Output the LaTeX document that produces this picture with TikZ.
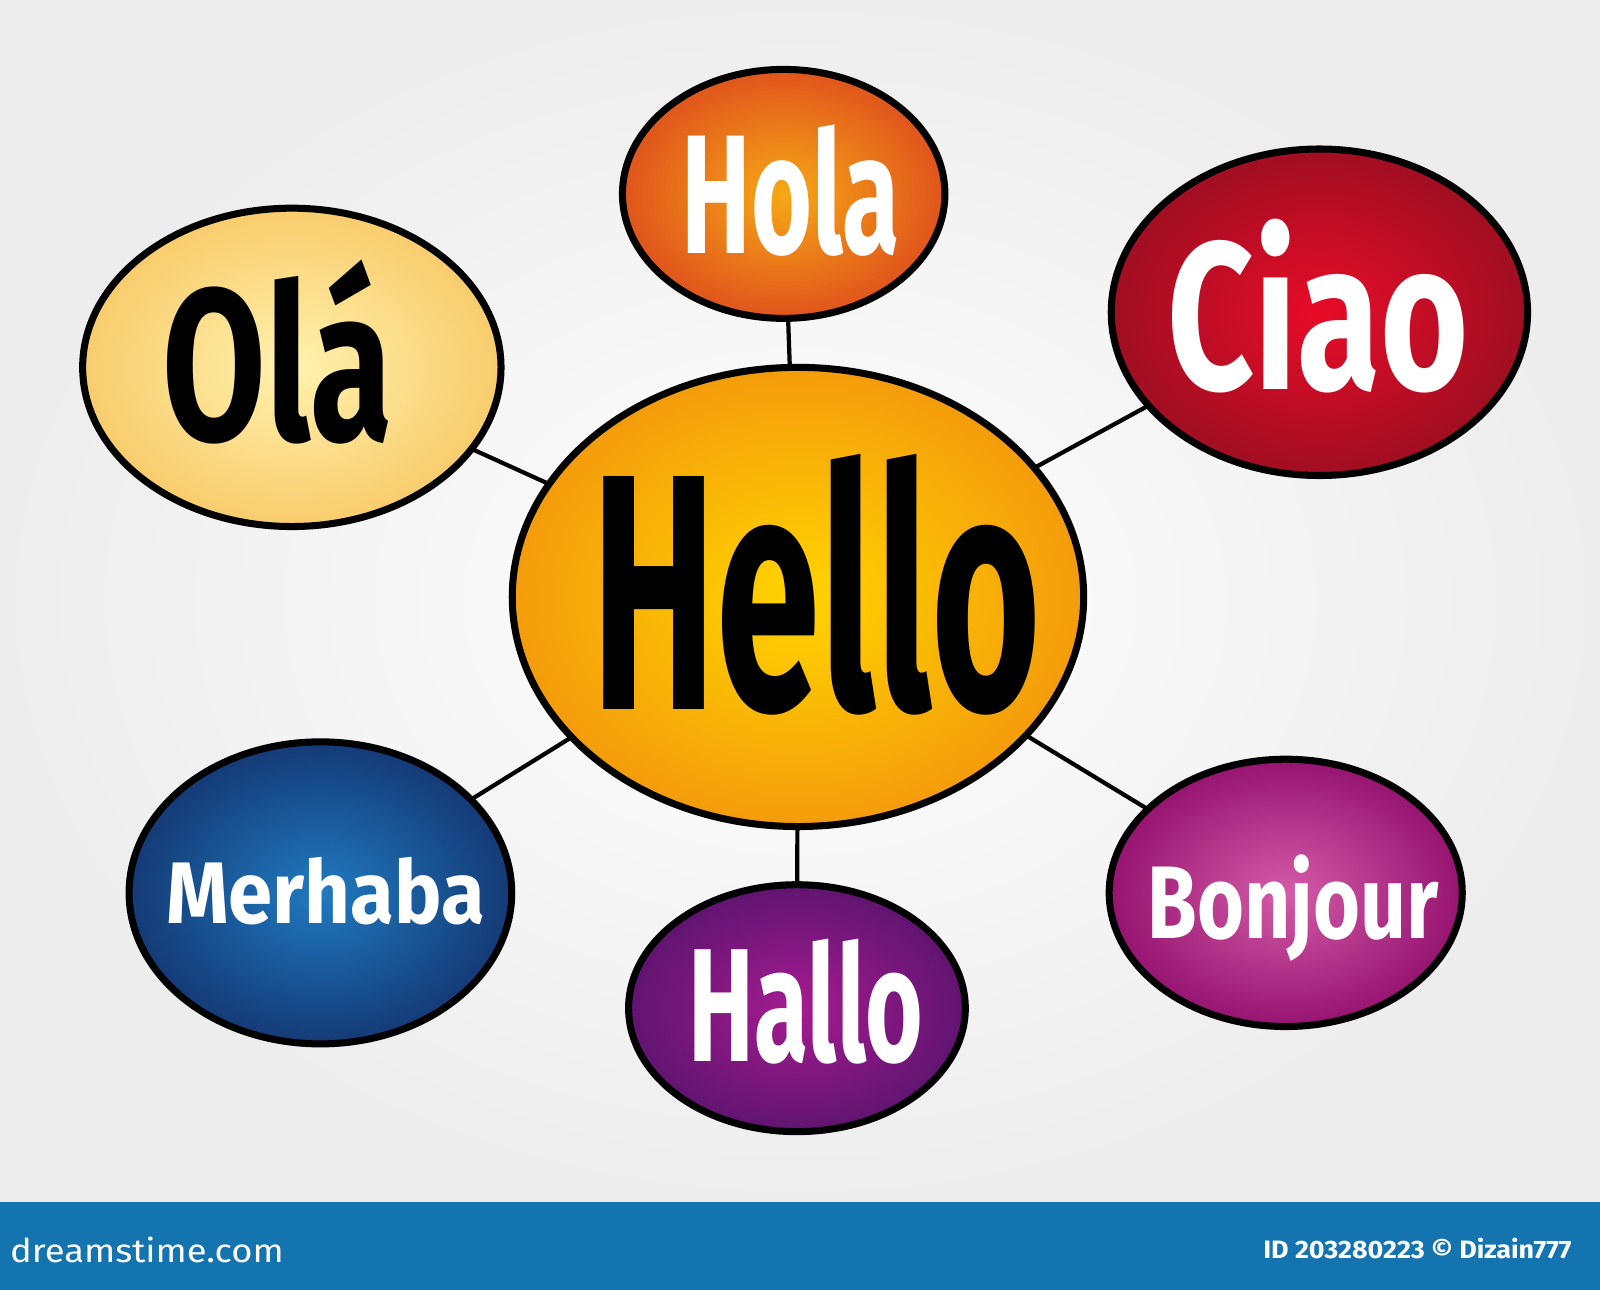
\documentclass[tikz,border=0pt]{standalone}
\usepackage{fontspec}
\setmainfont{Fira Sans}
\usetikzlibrary{shapes.geometric,backgrounds}
\newlength\px \setlength\px{0.010204cm}
\definecolor{helloin}{RGB}{255,212,0}\definecolor{helloout}{RGB}{244,156,12}
\definecolor{holain}{RGB}{246,168,22}\definecolor{holaout}{RGB}{224,84,28}
\definecolor{ciaoin}{RGB}{232,12,40}\definecolor{ciaoout}{RGB}{160,14,34}
\definecolor{olain}{RGB}{255,242,175}\definecolor{olaout}{RGB}{248,204,108}
\definecolor{merhabain}{RGB}{32,122,192}\definecolor{merhabaout}{RGB}{20,58,118}
\definecolor{halloin}{RGB}{165,28,145}\definecolor{halloout}{RGB}{96,20,112}
\definecolor{bonjourin}{RGB}{212,92,168}\definecolor{bonjourout}{RGB}{150,20,112}
\definecolor{barblue}{RGB}{20,116,176}
\begin{document}
\begin{tikzpicture}[x=1\px,y=-1\px,
  bubble/.style={ellipse,draw=black,line width=2pt,inner sep=0pt,inner color=#1in,outer color=#1out},
  word/.style={anchor=base,inner sep=0pt,font=\bfseries},
  link/.style={line width=1.2pt}]
\useasboundingbox (0,0) rectangle (1568,1264);
\node[bubble=hello,minimum width=560\px,minimum height=450\px] (hello) at (782,585) {};
\node[bubble=hola,minimum width=316\px,minimum height=244\px] (hola) at (768,190) {};
\node[bubble=ciao,minimum width=408\px,minimum height=320\px] (ciao) at (1293,306) {};
\node[bubble=ola,minimum width=410\px,minimum height=312\px] (ola) at (286,360) {};
\node[bubble=merhaba,minimum width=375\px,minimum height=296\px] (merhaba) at (314,875) {};
\node[bubble=hallo,minimum width=330\px,minimum height=242\px] (hallo) at (781,988) {};
\node[bubble=bonjour,minimum width=346\px,minimum height=262\px] (bonjour) at (1260,875) {};
\begin{scope}[on background layer]
\shade[inner color=white,outer color=gray!14] (0,0) rectangle (1568,1178);
\fill[barblue] (0,1178) rectangle (1568,1264);
\draw[link] (hello.center) -- (hola.center);
\draw[link] (hello.center) -- (ciao.center);
\draw[link] (hello.center) -- (ola.center);
\draw[link] (hello.center) -- (merhaba.center);
\draw[link] (hello.center) -- (hallo.center);
\draw[link] (hello.center) -- (bonjour.center);
\end{scope}
\node[word] (hello-t) at (800,695) {\resizebox{440\px}{250\px}{Hello}};
\node[word,white] (hola-t) at (775,248) {\resizebox{214\px}{126\px}{Hola}};
\node[word,white] (ciao-t) at (1292,382) {\resizebox{295\px}{167\px}{Ciao}};
\node[word] (ola-t) at (272,432) {\resizebox{225\px}{177\px}{Olá}};
\node[word,white] (merhaba-t) at (319,905) {\resizebox{312\px}{65\px}{Merhaba}};
\node[word,white] (hallo-t) at (790,1040) {\resizebox{230\px}{120\px}{Hallo}};
\node[word,white] (bonjour-t) at (1267,920) {\resizebox{285\px}{82\px}{Bonjour}};
\node[anchor=base,inner sep=0pt,white] (site) at (144,1237) {\resizebox{268\px}{25\px}{dreamstime.com}};
\node[word,white] (credit) at (1389,1233) {\resizebox{302\px}{20\px}{ID 203280223 © Dizain777}};
\end{tikzpicture}
\end{document}
